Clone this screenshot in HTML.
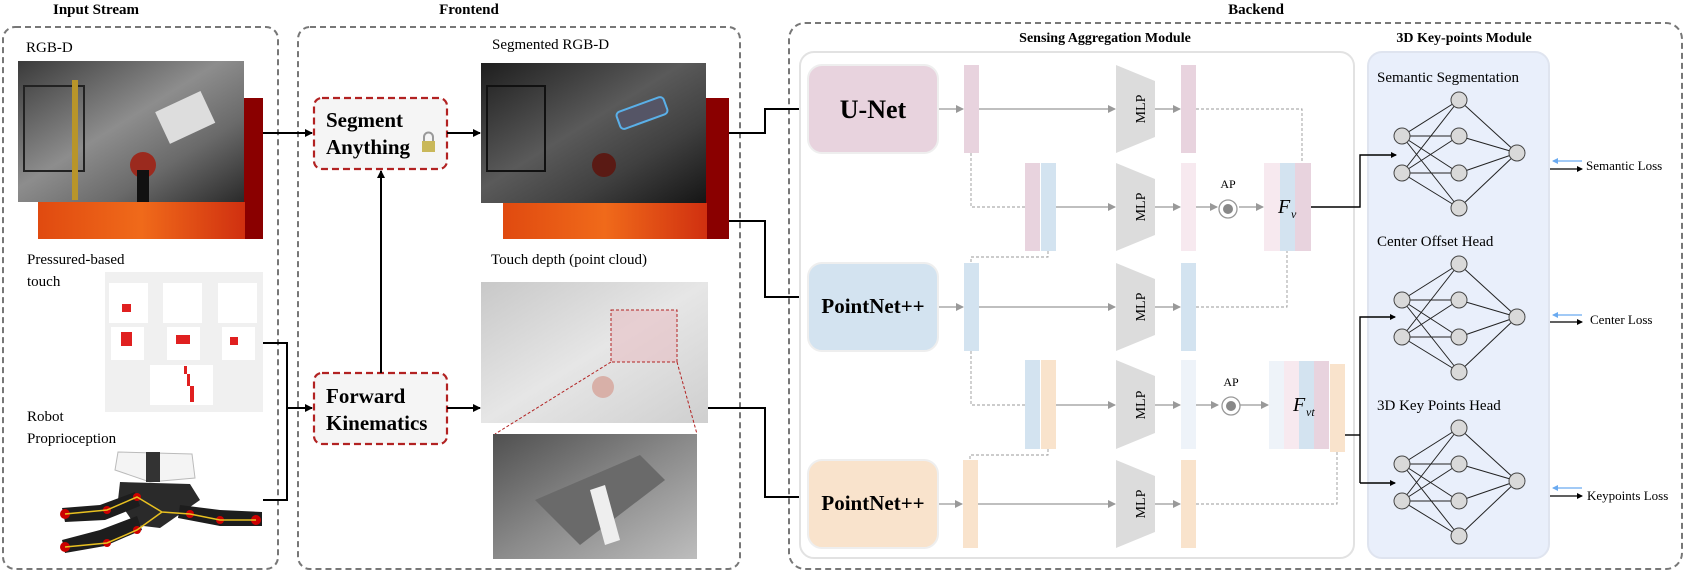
<!DOCTYPE html>
<html><head><meta charset="utf-8"><style>
html,body{margin:0;padding:0;background:#fff;}
body{width:1686px;height:573px;overflow:hidden;position:relative;font-family:"Liberation Serif",serif;}
svg{position:absolute;left:0;top:0;}
</style></head><body>
<svg width="1686" height="573" viewBox="0 0 1686 573" xmlns="http://www.w3.org/2000/svg" font-family="Liberation Serif, serif">
<defs>
<marker id="ab" markerWidth="8" markerHeight="8" refX="7" refY="4" orient="auto" markerUnits="userSpaceOnUse"><path d="M0,0 L8,4 L0,8 z" fill="#000"/></marker>
<marker id="ag" markerWidth="8" markerHeight="8" refX="7" refY="4" orient="auto" markerUnits="userSpaceOnUse"><path d="M0,0 L8,4 L0,8 z" fill="#999"/></marker>
<marker id="abl" markerWidth="6" markerHeight="6" refX="5" refY="3" orient="auto" markerUnits="userSpaceOnUse"><path d="M0,0 L6,3 L0,6 z" fill="#6aaaf0"/></marker>
<marker id="as" markerWidth="6" markerHeight="6" refX="5" refY="3" orient="auto" markerUnits="userSpaceOnUse"><path d="M0,0 L6,3 L0,6 z" fill="#000"/></marker>
<linearGradient id="photo" x1="0" y1="0" x2="1" y2="1"><stop offset="0" stop-color="#3a3a3a"/><stop offset="0.45" stop-color="#8d8d8d"/><stop offset="0.7" stop-color="#6a6a6a"/><stop offset="1" stop-color="#2a2a2a"/></linearGradient>
<linearGradient id="photod" x1="0" y1="0" x2="1" y2="1"><stop offset="0" stop-color="#1e1e1e"/><stop offset="0.45" stop-color="#5a5a5a"/><stop offset="0.7" stop-color="#404040"/><stop offset="1" stop-color="#151515"/></linearGradient>
<linearGradient id="orange" x1="0" y1="0" x2="1" y2="0"><stop offset="0" stop-color="#e04a10"/><stop offset="0.5" stop-color="#f06a1a"/><stop offset="1" stop-color="#d03010"/></linearGradient>
<linearGradient id="touch" x1="0" y1="0" x2="1" y2="1"><stop offset="0" stop-color="#c8c8c8"/><stop offset="0.5" stop-color="#e6e6e6"/><stop offset="1" stop-color="#cfcfcf"/></linearGradient>
<linearGradient id="zoomimg" x1="0" y1="0" x2="1" y2="1"><stop offset="0" stop-color="#505050"/><stop offset="0.5" stop-color="#8a8a8a"/><stop offset="1" stop-color="#bdbdbd"/></linearGradient>
</defs>

<!-- titles -->
<text x="96" y="14" font-size="15" font-weight="bold" text-anchor="middle">Input Stream</text>
<text x="469" y="14" font-size="15" font-weight="bold" text-anchor="middle">Frontend</text>
<text x="1256" y="14" font-size="15" font-weight="bold" text-anchor="middle">Backend</text>

<!-- dashed outer boxes -->
<rect x="3" y="27" width="275" height="542" rx="12" fill="none" stroke="#777" stroke-width="2" stroke-dasharray="6,4"/>
<rect x="298" y="27" width="442" height="542" rx="12" fill="none" stroke="#777" stroke-width="2" stroke-dasharray="6,4"/>
<rect x="789" y="23" width="893" height="546" rx="16" fill="none" stroke="#777" stroke-width="2" stroke-dasharray="6,4"/>

<!-- input stream -->
<text x="26" y="52" font-size="15">RGB-D</text>
<rect x="38" y="98" width="225" height="141" fill="#8a0000"/>
<rect x="38" y="202" width="207" height="37" fill="url(#orange)"/>
<rect x="18" y="61" width="226" height="141" fill="url(#photo)"/>
<rect x="24" y="86" width="60" height="85" fill="none" stroke="#222" stroke-width="2"/>
<rect x="72" y="80" width="6" height="120" fill="#b8952a"/>
<rect x="160" y="100" width="50" height="35" fill="#ddd" transform="rotate(-25 185 117)"/>
<circle cx="143" cy="165" r="13" fill="#9b2a1e"/>
<rect x="137" y="170" width="12" height="32" fill="#111"/>

<text x="27" y="264" font-size="15">Pressured-based</text>
<text x="27" y="286" font-size="15">touch</text>
<rect x="105" y="272" width="158" height="140" fill="#f0f0f0"/>
<g fill="#fff">
<rect x="109" y="283" width="39" height="40"/><rect x="163" y="283" width="39" height="40"/><rect x="218" y="283" width="39" height="40"/>
<rect x="111" y="327" width="33" height="33"/><rect x="167" y="327" width="33" height="33"/><rect x="222" y="327" width="33" height="33"/>
<rect x="150" y="365" width="63" height="40"/>
</g>
<g fill="#e02020">
<rect x="122" y="304" width="9" height="8"/><rect x="121" y="332" width="11" height="14"/><rect x="176" y="335" width="14" height="9"/><rect x="230" y="337" width="8" height="8"/>
<rect x="184" y="366" width="3" height="8"/><rect x="187" y="374" width="3" height="12"/><rect x="190" y="386" width="4" height="16"/>
</g>

<text x="27" y="421" font-size="15">Robot</text>
<text x="27" y="443" font-size="15">Proprioception</text>
<g>
<path d="M118 452 L192 454 L195 478 L150 482 L115 470 z" fill="#f4f4f4" stroke="#bbb"/>
<rect x="146" y="452" width="14" height="30" fill="#333"/>
<path d="M120 482 L190 484 L200 500 L160 528 L135 525 L118 500 z" fill="#2a2a2a"/>
<path d="M62 508 L100 505 L135 492 L140 506 L105 520 L65 522 z" fill="#1d1d1d"/>
<path d="M62 540 L100 530 L137 516 L142 530 L105 546 L65 553 z" fill="#1d1d1d"/>
<path d="M180 505 L220 510 L262 512 L262 526 L220 526 L178 518 z" fill="#1d1d1d"/>
<circle cx="65" cy="514" r="5" fill="#c00"/><circle cx="107" cy="510" r="4" fill="#c00"/><circle cx="137" cy="497" r="4" fill="#c00"/>
<circle cx="65" cy="547" r="5" fill="#c00"/><circle cx="107" cy="543" r="4" fill="#c00"/><circle cx="137" cy="530" r="4" fill="#c00"/>
<circle cx="190" cy="514" r="4" fill="#c00"/><circle cx="220" cy="520" r="4" fill="#c00"/><circle cx="256" cy="520" r="5" fill="#c00"/>
<polyline points="65,514 107,510 137,497 162,512 190,514 220,520 256,520" fill="none" stroke="#e8c020" stroke-width="1.5"/>
<polyline points="65,547 107,543 137,530 162,512" fill="none" stroke="#e8c020" stroke-width="1.5"/>
</g>

<!-- frontend -->
<rect x="314" y="98" width="133" height="71" rx="8" fill="#f5f5f5" stroke="#b22222" stroke-width="2.2" stroke-dasharray="7,4"/>
<text x="326" y="127" font-size="21" font-weight="bold">Segment</text>
<text x="326" y="154" font-size="21" font-weight="bold">Anything</text>
<rect x="422" y="141" width="13" height="11" fill="#c9b85a"/><path d="M424 141 v-4 a4.5 4.5 0 0 1 9 0 v4" fill="none" stroke="#999" stroke-width="2"/>
<rect x="314" y="373" width="133" height="71" rx="8" fill="#f5f5f5" stroke="#b22222" stroke-width="2.2" stroke-dasharray="7,4"/>
<text x="326" y="403" font-size="21" font-weight="bold">Forward</text>
<text x="326" y="430" font-size="21" font-weight="bold">Kinematics</text>

<text x="492" y="49" font-size="15">Segmented RGB-D</text>
<rect x="503" y="98" width="226" height="141" fill="#8a0000"/>
<rect x="503" y="203" width="204" height="36" fill="url(#orange)"/>
<rect x="481" y="63" width="225" height="140" fill="url(#photod)"/>
<rect x="487" y="86" width="58" height="85" fill="none" stroke="#111" stroke-width="2"/>
<circle cx="604" cy="165" r="12" fill="#5a1a14"/>
<rect x="617" y="104" width="50" height="18" rx="4" fill="#556" stroke="#5ab0e8" stroke-width="2" transform="rotate(-20 642 113)"/>

<text x="491" y="264" font-size="15">Touch depth (point cloud)</text>
<rect x="481" y="282" width="227" height="141" fill="url(#touch)"/>
<rect x="611" y="310" width="66" height="52" fill="#e8c0c4" fill-opacity="0.6" stroke="#b22222" stroke-dasharray="3,2"/>
<circle cx="603" cy="387" r="11" fill="#d8b0a8"/>
<line x1="611" y1="362" x2="495" y2="434" stroke="#b22222" stroke-dasharray="3,2"/>
<line x1="677" y1="362" x2="697" y2="434" stroke="#b22222" stroke-dasharray="3,2"/>
<rect x="493" y="434" width="204" height="125" fill="url(#zoomimg)"/>
<path d="M535 500 L640 455 L665 480 L580 545 z" fill="#6a6a6a"/>
<path d="M590 490 L605 485 L620 540 L605 545 z" fill="#eee"/>

<!-- input connectors -->
<g stroke="#000" stroke-width="2" fill="none">
<line x1="263" y1="133" x2="312" y2="133" marker-end="url(#ab)"/>
<line x1="447" y1="133" x2="480" y2="133" marker-end="url(#ab)"/>
<line x1="381" y1="373" x2="381" y2="171" marker-end="url(#ab)"/>
<polyline points="263,343 287,343 287,500 263,500"/>
<line x1="287" y1="408" x2="312" y2="408" marker-end="url(#ab)"/>
<line x1="447" y1="408" x2="480" y2="408" marker-end="url(#ab)"/>
<polyline points="729,133 765,133 765,109 806,109" marker-end="url(#ab)"/>
<polyline points="729,221 765,221 765,297 806,297" marker-end="url(#ab)"/>
<polyline points="708,408 765,408 765,497 806,497" marker-end="url(#ab)"/>
</g>

<!-- backend -->
<text x="1105" y="42" font-size="14" font-weight="bold" text-anchor="middle">Sensing Aggregation Module</text>
<text x="1464" y="42" font-size="14" font-weight="bold" text-anchor="middle">3D Key-points Module</text>
<rect x="800" y="52" width="554" height="506" rx="14" fill="#fff" stroke="#e2e2e2" stroke-width="2"/>
<rect x="1368" y="52" width="181" height="506" rx="14" fill="#e9effb" stroke="#dfe4ef" stroke-width="2"/>

<rect x="808" y="65" width="130" height="88" rx="14" fill="#e8d3de" stroke="#eee" stroke-width="2"/>
<text x="873" y="118" font-size="26" font-weight="bold" text-anchor="middle">U-Net</text>
<rect x="808" y="263" width="130" height="88" rx="14" fill="#d3e3f0" stroke="#eee" stroke-width="2"/>
<text x="873" y="313" font-size="21" font-weight="bold" text-anchor="middle">PointNet++</text>
<rect x="808" y="460" width="130" height="88" rx="14" fill="#f9e3cc" stroke="#eee" stroke-width="2"/>
<text x="873" y="510" font-size="21" font-weight="bold" text-anchor="middle">PointNet++</text>

<!-- bars -->
<rect x="964" y="65" width="15" height="88" fill="#e8d3de"/>
<rect x="964" y="263" width="15" height="88" fill="#d3e3f0"/>
<rect x="963" y="460" width="15" height="88" fill="#f9e3cc"/>
<rect x="1025" y="163" width="15" height="88" fill="#e8d3de"/><rect x="1041" y="163" width="15" height="88" fill="#d3e3f0"/>
<rect x="1025" y="360" width="15" height="89" fill="#d3e3f0"/><rect x="1041" y="360" width="15" height="89" fill="#f9e3cc"/>
<rect x="1181" y="65" width="15" height="88" fill="#e8d3de"/>
<rect x="1181" y="163" width="15" height="88" fill="#f7e9ef"/>
<rect x="1181" y="263" width="15" height="88" fill="#d3e3f0"/>
<rect x="1181" y="360" width="15" height="89" fill="#eef3f9"/>
<rect x="1181" y="460" width="15" height="88" fill="#f9e3cc"/>
<!-- Fv -->
<rect x="1264" y="163" width="16" height="88" fill="#f7e9ef"/><rect x="1280" y="163" width="15" height="88" fill="#d3e3f0"/><rect x="1295" y="163" width="16" height="88" fill="#e8d3de"/>
<text x="1278" y="213" font-size="20" font-style="italic">F</text><text x="1291" y="218" font-size="12" font-style="italic">v</text>
<!-- Fvt -->
<rect x="1269" y="361" width="15" height="88" fill="#eef3f9"/><rect x="1284" y="361" width="15" height="88" fill="#f7e9ef"/><rect x="1299" y="361" width="15" height="88" fill="#d3e3f0"/><rect x="1314" y="361" width="15" height="88" fill="#e8d3de"/><rect x="1330" y="364" width="15" height="88" fill="#f9e3cc"/>
<text x="1293" y="411" font-size="20" font-style="italic">F</text><text x="1306" y="416" font-size="12" font-style="italic">vt</text>

<!-- MLPs -->
<g fill="#dcdcdc">
<polygon points="1116,65 1155,81 1155,137 1116,153"/>
<polygon points="1116,163 1155,179 1155,235 1116,251"/>
<polygon points="1116,263 1155,279 1155,335 1116,351"/>
<polygon points="1116,360 1155,376 1155,433 1116,449"/>
<polygon points="1116,460 1155,476 1155,532 1116,548"/>
</g>
<g font-size="14" text-anchor="middle">
<text transform="translate(1140,109) rotate(-90)" y="5">MLP</text>
<text transform="translate(1140,207) rotate(-90)" y="5">MLP</text>
<text transform="translate(1140,307) rotate(-90)" y="5">MLP</text>
<text transform="translate(1140,405) rotate(-90)" y="5">MLP</text>
<text transform="translate(1140,504) rotate(-90)" y="5">MLP</text>
</g>

<!-- grey arrows -->
<g stroke="#999" stroke-width="1.3" fill="none">
<line x1="939" y1="109" x2="963" y2="109" marker-end="url(#ag)"/>
<line x1="979" y1="109" x2="1115" y2="109" marker-end="url(#ag)"/>
<line x1="1155" y1="109" x2="1180" y2="109" marker-end="url(#ag)"/>
<line x1="939" y1="307" x2="963" y2="307" marker-end="url(#ag)"/>
<line x1="979" y1="307" x2="1115" y2="307" marker-end="url(#ag)"/>
<line x1="1155" y1="307" x2="1180" y2="307" marker-end="url(#ag)"/>
<line x1="939" y1="504" x2="962" y2="504" marker-end="url(#ag)"/>
<line x1="978" y1="504" x2="1115" y2="504" marker-end="url(#ag)"/>
<line x1="1155" y1="504" x2="1180" y2="504" marker-end="url(#ag)"/>
<line x1="1056" y1="207" x2="1115" y2="207" marker-end="url(#ag)"/>
<line x1="1155" y1="207" x2="1180" y2="207" marker-end="url(#ag)"/>
<line x1="1196" y1="207" x2="1217" y2="207" marker-end="url(#ag)"/>
<line x1="1239" y1="207" x2="1263" y2="207" marker-end="url(#ag)"/>
<line x1="1056" y1="405" x2="1115" y2="405" marker-end="url(#ag)"/>
<line x1="1155" y1="405" x2="1180" y2="405" marker-end="url(#ag)"/>
<line x1="1196" y1="405" x2="1218" y2="405" marker-end="url(#ag)"/>
<line x1="1240" y1="405" x2="1268" y2="405" marker-end="url(#ag)"/>
</g>
<g stroke="#999" stroke-width="0.9" fill="none" stroke-dasharray="3,2">
<polyline points="1196,109 1302,109 1302,163"/>
<polyline points="1196,307 1287,307 1287,251"/>
<polyline points="1196,504 1337,504 1337,452"/>
<polyline points="971,153 971,207 1025,207"/>
<polyline points="1048,251 1048,257 971,257 971,263"/>
<polyline points="971,351 971,405 1025,405"/>
<polyline points="1048,449 1048,455 970,455 970,460"/>
</g>
<!-- AP -->
<text x="1228" y="188" font-size="12" text-anchor="middle">AP</text>
<circle cx="1228" cy="209" r="9" fill="#fff" stroke="#999" stroke-width="1.3"/><circle cx="1228" cy="209" r="5" fill="#888"/>
<text x="1231" y="386" font-size="12" text-anchor="middle">AP</text>
<circle cx="1231" cy="406" r="9" fill="#fff" stroke="#999" stroke-width="1.3"/><circle cx="1231" cy="406" r="5" fill="#888"/>

<!-- to NN -->
<g stroke="#000" stroke-width="1.4" fill="none">
<polyline points="1311,207 1360,207 1360,155 1396,155" marker-end="url(#as)"/>
<polyline points="1345,435 1360,435"/>
<polyline points="1360,483 1360,317 1395,317" marker-end="url(#as)"/>
<line x1="1360" y1="483" x2="1395" y2="483" marker-end="url(#as)"/>
</g>

<!-- NNs -->
<g font-size="15">
<text x="1377" y="82">Semantic Segmentation</text>
<text x="1377" y="246">Center Offset Head</text>
<text x="1377" y="410">3D Key Points Head</text>
</g>
<g id="nn" stroke="#222" stroke-width="1" fill="none">
<line x1="1402" y1="136" x2="1459" y2="100"/><line x1="1402" y1="136" x2="1459" y2="136"/><line x1="1402" y1="136" x2="1459" y2="173"/><line x1="1402" y1="136" x2="1459" y2="208"/>
<line x1="1402" y1="173" x2="1459" y2="100"/><line x1="1402" y1="173" x2="1459" y2="136"/><line x1="1402" y1="173" x2="1459" y2="173"/><line x1="1402" y1="173" x2="1459" y2="208"/>
<line x1="1517" y1="153" x2="1459" y2="100"/><line x1="1517" y1="153" x2="1459" y2="136"/><line x1="1517" y1="153" x2="1459" y2="173"/><line x1="1517" y1="153" x2="1459" y2="208"/>
<g fill="#d9d9d9" stroke="#444">
<circle cx="1402" cy="136" r="8"/><circle cx="1402" cy="173" r="8"/>
<circle cx="1459" cy="100" r="8"/><circle cx="1459" cy="136" r="8"/><circle cx="1459" cy="173" r="8"/><circle cx="1459" cy="208" r="8"/>
<circle cx="1517" cy="153" r="8"/>
</g>
</g>
<use href="#nn" transform="translate(0,164)"/>
<use href="#nn" transform="translate(0,328)"/>

<!-- losses -->
<g stroke-width="1.3">
<line x1="1582" y1="161" x2="1553" y2="161" stroke="#6aaaf0" marker-end="url(#abl)"/>
<line x1="1550" y1="169" x2="1582" y2="169" stroke="#000" marker-end="url(#as)"/>
<line x1="1582" y1="315" x2="1553" y2="315" stroke="#6aaaf0" marker-end="url(#abl)"/>
<line x1="1550" y1="322" x2="1582" y2="322" stroke="#000" marker-end="url(#as)"/>
<line x1="1582" y1="488" x2="1553" y2="488" stroke="#6aaaf0" marker-end="url(#abl)"/>
<line x1="1550" y1="496" x2="1582" y2="496" stroke="#000" marker-end="url(#as)"/>
</g>
<g font-size="13">
<text x="1586" y="170">Semantic Loss</text>
<text x="1590" y="324">Center Loss</text>
<text x="1587" y="500">Keypoints Loss</text>
</g>
</svg>
</body></html>
